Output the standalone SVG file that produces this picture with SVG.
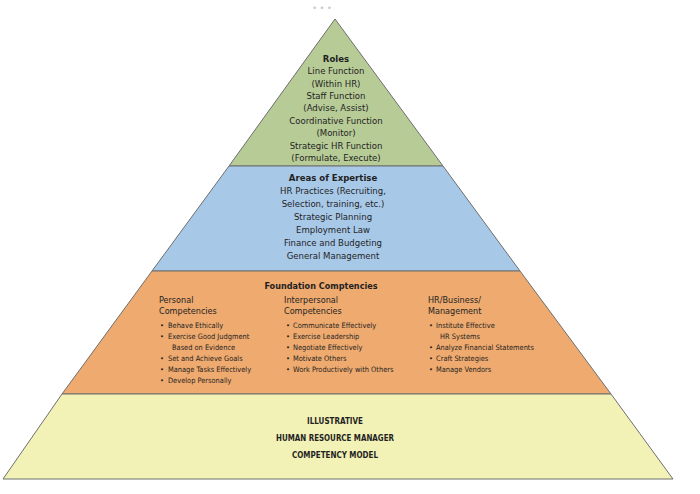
<svg xmlns="http://www.w3.org/2000/svg" width="700" height="494" viewBox="0 0 700 494">
<style>
text{font-family:"Liberation Sans Narrow","DejaVu Sans Condensed","Liberation Sans",sans-serif;fill:#1f1f1f}
.c{text-anchor:middle;font-size:9.5px}
.b{font-weight:bold}
.h{font-size:9px}
.s{font-size:7.4px}
.t{font-size:9px;lengthAdjust:spacingAndGlyphs}
.layer{stroke:#6f6f6f;stroke-width:1}
</style>
<rect width="700" height="494" fill="#ffffff"/>
<text x="322" y="11" class="c" style="fill:#c8c8c8;font-size:9px">• • •</text>
<g id="layer-roles">
<polygon class="layer" points="335,19 443,166 229,166" fill="#b7cb97"/>
<text class="c b" x="336" y="61.5">Roles</text>
<text class="c" x="336" y="74">Line Function</text>
<text class="c" x="336" y="86.5">(Within HR)</text>
<text class="c" x="336" y="99">Staff Function</text>
<text class="c" x="336" y="111">(Advise, Assist)</text>
<text class="c" x="336" y="123.5">Coordinative Function</text>
<text class="c" x="336" y="136">(Monitor)</text>
<text class="c" x="336" y="148.5">Strategic HR Function</text>
<text class="c" x="336" y="161">(Formulate, Execute)</text>
</g>
<g id="layer-expertise">
<polygon class="layer" points="229,166 443,166 520,271 152,271" fill="#a8c8e8"/>
<text class="c b" x="333" y="180.5">Areas of  Expertise</text>
<text class="c" x="333" y="193.5">HR Practices (Recruiting,</text>
<text class="c" x="333" y="206.5">Selection, training, etc.)</text>
<text class="c" x="333" y="219.5">Strategic Planning</text>
<text class="c" x="333" y="232.5">Employment Law</text>
<text class="c" x="333" y="246">Finance and Budgeting</text>
<text class="c" x="333" y="259">General Management</text>
</g>
<g id="layer-foundation">
<polygon class="layer" points="152,271 520,271 611,394 62,394" fill="#eeaa6f"/>
<text class="c b" x="321" y="289" style="font-size:9px">Foundation Comptencies</text>
<g id="col-personal">
<text class="h" x="159" y="303">Personal</text>
<text class="h" x="159" y="314">Competencies</text>
<text class="s" x="160" y="327.5">•</text><text class="s" x="168" y="327.5">Behave Ethically</text>
<text class="s" x="160" y="338.5">•</text><text class="s" x="168" y="338.5">Exercise Good Judgment</text>
<text class="s" x="172" y="349.5">Based on Evidence</text>
<text class="s" x="160" y="360.5">•</text><text class="s" x="168" y="360.5">Set and Achieve Goals</text>
<text class="s" x="160" y="371.5">•</text><text class="s" x="168" y="371.5">Manage Tasks Effectively</text>
<text class="s" x="160" y="382.5">•</text><text class="s" x="168" y="382.5">Develop Personally</text>
</g>
<g id="col-interpersonal">
<text class="h" x="284" y="303">Interpersonal</text>
<text class="h" x="284" y="314">Competencies</text>
<text class="s" x="286" y="327.5">•</text><text class="s" x="293" y="327.5">Communicate Effectively</text>
<text class="s" x="286" y="338.5">•</text><text class="s" x="293" y="338.5">Exercise Leadership</text>
<text class="s" x="286" y="349.5">•</text><text class="s" x="293" y="349.5">Negotiate Effectively</text>
<text class="s" x="286" y="360.5">•</text><text class="s" x="293" y="360.5">Motivate Others</text>
<text class="s" x="286" y="371.5">•</text><text class="s" x="293" y="371.5">Work Productively with Others</text>
</g>
<g id="col-hr-business">
<text class="h" x="428" y="303">HR/Business/</text>
<text class="h" x="428" y="314">Management</text>
<text class="s" x="429" y="327.5">•</text><text class="s" x="436" y="327.5">Institute Effective</text>
<text class="s" x="440" y="338.5">HR Systems</text>
<text class="s" x="429" y="349.5">•</text><text class="s" x="436" y="349.5">Analyze Financial Statements</text>
<text class="s" x="429" y="360.5">•</text><text class="s" x="436" y="360.5">Craft Strategies</text>
<text class="s" x="429" y="371.5">•</text><text class="s" x="436" y="371.5">Manage Vendors</text>
</g>
</g>
<g id="layer-base">
<polygon class="layer" points="62,394 611,394 673,479 3,479" fill="#f2f1b6"/>
<text class="c b t" x="335" y="423.5" textLength="56" lengthAdjust="spacingAndGlyphs">ILLUSTRATIVE</text>
<text class="c b t" x="335" y="440.5" textLength="118" lengthAdjust="spacingAndGlyphs">HUMAN RESOURCE MANAGER</text>
<text class="c b t" x="335" y="458" textLength="86" lengthAdjust="spacingAndGlyphs">COMPETENCY MODEL</text>
</g>
<g id="connectors"></g>
</svg>
